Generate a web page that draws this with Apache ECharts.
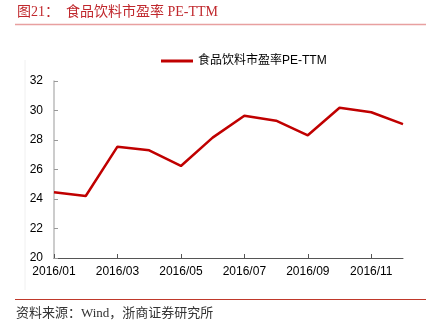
<!DOCTYPE html>
<html><head><meta charset="utf-8">
<script src="https://cdn.jsdelivr.net/npm/echarts@6/dist/echarts.min.js"></script>
<style>html,body{margin:0;padding:0;background:#fff}#c{width:448px;height:336px}</style>
</head><body><div id="c"></div>
<script>
const categories = ['2016/01','2016/02','2016/03','2016/04','2016/05','2016/06','2016/07','2016/08','2016/09','2016/10','2016/11','2016/12'];
const peValues = [24.45, 24.2, 27.55, 27.3, 26.24, 28.16, 29.65, 29.31, 28.32, 30.19, 29.88, 29.08];
const seriesName = '食品饮料市盈率PE-TTM';
const titleText = '图21：  食品饮料市盈率 PE-TTM';
const sourceText = '资料来源：Wind，浙商证券研究所';

const chart = echarts.init(document.getElementById('c'), null, {renderer:'canvas'});
chart.setOption({
  animation:false,
  grid:{left:54,right:45,top:81,bottom:78},
  legend:{
    data:[seriesName], top:50, left:156,
    itemWidth:32, itemHeight:3, itemGap:4,
    icon:'rect',
    textStyle:{fontFamily:'Arial, Liberation Sans, Noto Sans CJK SC, sans-serif',fontSize:12,color:'#000'}
  },
  xAxis:{
    type:'category', data:categories, boundaryGap:false,
    axisLine:{lineStyle:{color:'#555',width:1}},
    axisTick:{inside:true,length:4,interval:1,alignWithLabel:true,lineStyle:{color:'#555'}},
    axisLabel:{interval:1,color:'#000',fontSize:12,fontFamily:'Arial, Liberation Sans, sans-serif',margin:8},
    splitLine:{show:false}
  },
  yAxis:{
    type:'value', min:20, max:32, interval:2,
    axisLine:{show:true,lineStyle:{color:'#bbb',width:1.5}},
    axisTick:{show:true,inside:true,length:4,lineStyle:{color:'#999'}},
    axisLabel:{color:'#000',fontSize:12,fontFamily:'Arial, Liberation Sans, sans-serif',margin:11},
    splitLine:{show:false}
  },
  series:[{
    name:seriesName, type:'line', data:peValues,
    symbol:'none', lineStyle:{color:'#c00000',width:2.5}, itemStyle:{color:'#c00000'}
  }],
  graphic:[
    {type:'text',left:17,top:5,style:{text:titleText,fill:'#c0282d',font:'14px "Liberation Serif", "Noto Sans CJK SC", serif'}},
    {type:'line',shape:{x1:15,y1:24.5,x2:426,y2:24.5},style:{stroke:'#e8a0a0',lineWidth:1.5}},
    {type:'line',shape:{x1:25,y1:60,x2:25,y2:290},style:{stroke:'#f0f0f0',lineWidth:1}},
    {type:'line',shape:{x1:15,y1:299.5,x2:426,y2:299.5},style:{stroke:'#c0392b',lineWidth:1}},
    {type:'text',left:16,top:307,style:{text:sourceText,fill:'#333',font:'13px "Liberation Serif", "Noto Sans CJK SC", serif'}}
  ]
});
</script></body></html>
